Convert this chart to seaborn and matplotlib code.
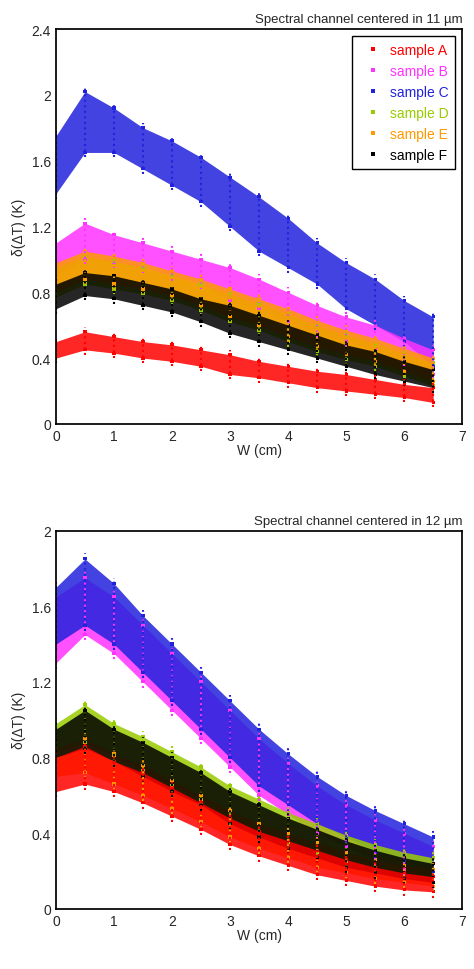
import matplotlib
matplotlib.use("Agg")
import matplotlib.pyplot as plt
import pandas as pd
import seaborn as sns

W = [0, 0.5, 1, 1.5, 2, 2.5, 3, 3.5, 4, 4.5, 5, 5.5, 6, 6.5]
SAMPLES = ["sample A", "sample B", "sample C", "sample D", "sample E", "sample F"]
COLORS = ["#ff0000", "#ff33ff", "#2222dd", "#99cc00", "#ff9900", "#000000"]

# 11 um channel: lower / upper edge of each sample's point cloud
lo_11 = {
    "sample A": [0.40, 0.45, 0.43, 0.40, 0.38, 0.35, 0.30, 0.28, 0.25, 0.22, 0.20, 0.18, 0.16, 0.13],
    "sample B": [0.90, 1.00, 0.98, 0.95, 0.90, 0.85, 0.75, 0.70, 0.62, 0.55, 0.50, 0.45, 0.38, 0.30],
    "sample C": [1.40, 1.65, 1.65, 1.55, 1.45, 1.35, 1.20, 1.05, 0.95, 0.85, 0.70, 0.60, 0.50, 0.35],
    "sample D": [0.77, 0.85, 0.82, 0.79, 0.75, 0.69, 0.62, 0.57, 0.50, 0.44, 0.39, 0.35, 0.29, 0.23],
    "sample E": [0.80, 0.88, 0.85, 0.82, 0.78, 0.72, 0.65, 0.60, 0.53, 0.47, 0.42, 0.38, 0.32, 0.26],
    "sample F": [0.70, 0.78, 0.76, 0.72, 0.68, 0.62, 0.55, 0.50, 0.45, 0.40, 0.35, 0.30, 0.26, 0.22],
}
hi_11 = {
    "sample A": [0.50, 0.56, 0.53, 0.50, 0.48, 0.45, 0.42, 0.38, 0.35, 0.32, 0.30, 0.27, 0.24, 0.22],
    "sample B": [1.10, 1.22, 1.15, 1.10, 1.05, 1.00, 0.95, 0.88, 0.80, 0.72, 0.65, 0.60, 0.52, 0.45],
    "sample C": [1.75, 2.02, 1.92, 1.80, 1.72, 1.62, 1.50, 1.38, 1.25, 1.10, 0.98, 0.88, 0.75, 0.65],
    "sample D": [0.95, 1.02, 0.99, 0.95, 0.90, 0.85, 0.79, 0.73, 0.67, 0.60, 0.54, 0.49, 0.43, 0.37],
    "sample E": [0.98, 1.05, 1.02, 0.98, 0.93, 0.88, 0.82, 0.76, 0.70, 0.63, 0.57, 0.52, 0.46, 0.40],
    "sample F": [0.85, 0.92, 0.90, 0.86, 0.82, 0.76, 0.72, 0.66, 0.60, 0.54, 0.48, 0.44, 0.38, 0.33],
}

# 12 um channel
lo_12 = {
    "sample A": [0.62, 0.66, 0.62, 0.56, 0.49, 0.42, 0.34, 0.28, 0.23, 0.18, 0.15, 0.12, 0.10, 0.09],
    "sample B": [1.30, 1.45, 1.35, 1.20, 1.05, 0.90, 0.75, 0.60, 0.50, 0.40, 0.33, 0.26, 0.21, 0.17],
    "sample C": [1.40, 1.50, 1.40, 1.25, 1.10, 0.95, 0.80, 0.65, 0.55, 0.45, 0.38, 0.30, 0.25, 0.20],
    "sample D": [0.83, 0.88, 0.81, 0.73, 0.65, 0.58, 0.48, 0.41, 0.35, 0.30, 0.25, 0.22, 0.19, 0.17],
    "sample E": [0.70, 0.72, 0.66, 0.60, 0.53, 0.46, 0.38, 0.32, 0.27, 0.22, 0.19, 0.16, 0.14, 0.12],
    "sample F": [0.80, 0.85, 0.78, 0.70, 0.62, 0.55, 0.45, 0.38, 0.32, 0.27, 0.22, 0.19, 0.16, 0.14],
}
hi_12 = {
    "sample A": [0.80, 0.86, 0.78, 0.72, 0.64, 0.56, 0.48, 0.41, 0.36, 0.31, 0.26, 0.22, 0.19, 0.17],
    "sample B": [1.65, 1.75, 1.65, 1.50, 1.35, 1.20, 1.05, 0.90, 0.77, 0.65, 0.55, 0.47, 0.40, 0.33],
    "sample C": [1.70, 1.85, 1.72, 1.55, 1.40, 1.25, 1.10, 0.95, 0.82, 0.70, 0.60, 0.52, 0.45, 0.38],
    "sample D": [0.98, 1.08, 0.98, 0.91, 0.83, 0.75, 0.65, 0.58, 0.51, 0.45, 0.39, 0.34, 0.30, 0.27],
    "sample E": [0.85, 0.90, 0.82, 0.76, 0.68, 0.60, 0.52, 0.45, 0.40, 0.35, 0.30, 0.26, 0.23, 0.21],
    "sample F": [0.95, 1.05, 0.95, 0.88, 0.80, 0.72, 0.62, 0.55, 0.48, 0.42, 0.36, 0.31, 0.27, 0.24],
}

ORDER_11 = ["sample C", "sample B", "sample D", "sample E", "sample F", "sample A"]
ORDER_12 = ["sample B", "sample C", "sample D", "sample E", "sample F", "sample A"]


def to_frame(lo, hi):
    rows = []
    for s in SAMPLES:
        for w, a, b in zip(W, lo[s], hi[s]):
            rows.append({"W": w, "sample": s, "lo": a, "hi": b})
    return pd.DataFrame(rows)


def draw_panel(ax, df, order, ymax, yticks, ytlabels, title, legend):
    cmap = dict(zip(SAMPLES, COLORS))
    for s in order:
        d = df[df["sample"] == s]
        ax.fill_between(d["W"], d["lo"], d["hi"], color=cmap[s], alpha=0.85, linewidth=0)
        ax.vlines(d["W"], d["lo"] - 0.03, d["hi"] + 0.03, colors=cmap[s], linewidth=1.5, linestyles=":")
    long = df.melt(id_vars=["W", "sample"], value_vars=["lo", "hi"], value_name="v")
    sns.scatterplot(data=long, x="W", y="v", hue="sample", palette=COLORS,
                    hue_order=SAMPLES, s=5, marker="s", linewidth=0, ax=ax, legend=legend)
    ax.set_xlim(0, 7)
    ax.set_ylim(0, ymax)
    ax.set_xticks(range(8))
    ax.set_yticks(yticks)
    ax.set_yticklabels(ytlabels)
    ax.set_xlabel("W (cm)", labelpad=0, fontsize=10)
    ax.set_ylabel("δ(ΔT) (K)", fontsize=10)
    ax.tick_params(direction="in", length=4, labelsize=10)
    ax.text(1.0, 1.01, title, transform=ax.transAxes, ha="right", va="bottom", fontsize=9.5)
    if legend:
        h, l = ax.get_legend_handles_labels()
        leg = ax.legend(h, l, loc="upper right", frameon=True, fancybox=False,
                        edgecolor="black", fontsize=10, handletextpad=0.2,
                        labelspacing=0.5, borderpad=0.5, framealpha=1)
        for t, c in zip(leg.get_texts(), COLORS):
            t.set_color(c)


def main():
    sns.set_theme(style="white")
    plt.rcParams["font.family"] = ["Liberation Sans", "DejaVu Sans"]
    fig = plt.figure(figsize=(4.74, 9.70), dpi=100)
    ax1 = fig.add_axes([0.118, 0.562, 0.857, 0.407])
    ax2 = fig.add_axes([0.118, 0.062, 0.857, 0.39])
    draw_panel(ax1, to_frame(lo_11, hi_11), ORDER_11, 2.4, [0, 0.4, 0.8, 1.2, 1.6, 2.0, 2.4],
               ["0", "0.4", "0.8", "1.2", "1.6", "2", "2.4"],
               "Spectral channel centered in 11 µm", "full")
    draw_panel(ax2, to_frame(lo_12, hi_12), ORDER_12, 2.0, [0, 0.4, 0.8, 1.2, 1.6, 2.0],
               ["0", "0.4", "0.8", "1.2", "1.6", "2"],
               "Spectral channel centered in 12 µm", False)
    for ax in (ax1, ax2):
        for sp in ax.spines.values():
            sp.set_color("black")
    fig.savefig("out.png", dpi=100)


if __name__ == "__main__":
    main()
